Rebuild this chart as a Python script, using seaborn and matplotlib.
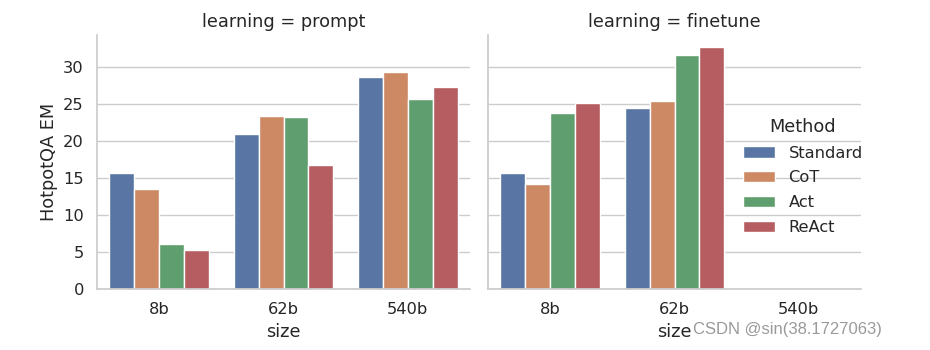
import matplotlib
matplotlib.use("Agg")
import matplotlib.pyplot as plt
import seaborn as sns
import pandas as pd

sizes = ["8b", "62b", "540b"]
methods = ["Standard", "CoT", "Act", "ReAct"]

prompt_standard = [15.7, 21.0, 28.7]
prompt_cot = [13.5, 23.4, 29.4]
prompt_act = [6.1, 23.2, 25.7]
prompt_react = [5.3, 16.8, 27.3]

finetune_sizes = ["8b", "62b"]
finetune_standard = [15.7, 24.5]
finetune_cot = [14.2, 25.4]
finetune_act = [23.8, 31.6]
finetune_react = [25.1, 32.7]

rows = []
for m, vals in zip(methods, [prompt_standard, prompt_cot, prompt_act, prompt_react]):
    for s, v in zip(sizes, vals):
        rows.append({"learning": "prompt", "size": s, "Method": m, "EM": v})
for m, vals in zip(methods, [finetune_standard, finetune_cot, finetune_act, finetune_react]):
    for s, v in zip(finetune_sizes, vals):
        rows.append({"learning": "finetune", "size": s, "Method": m, "EM": v})
df = pd.DataFrame(rows)

sns.set_theme(style="whitegrid", font_scale=1.067)

g = sns.catplot(data=df, x="size", y="EM", hue="Method", col="learning",
                kind="bar", order=sizes, hue_order=methods,
                col_order=["prompt", "finetune"], palette="deep",
                errorbar=None, height=3.5, aspect=1.2)
g.set_axis_labels("size", "HotpotQA EM")
g.set_titles("learning = {col_name}")
fig = g.figure
fig.set_size_inches(9.3, 3.5)
fig.subplots_adjust(left=97/930, right=861/930, bottom=1-289/350, top=1-35/350,
                    wspace=18/373)
sns.move_legend(g, "upper left", bbox_to_anchor=(0.783, 0.705), frameon=False,
                labelspacing=0.6)

fig.text(0.745, 0.045, "CSDN @sin(38.1727063)", color="#9a9a9a",
         fontsize=12, family="Liberation Sans")

fig.savefig("out.png", dpi=100)
